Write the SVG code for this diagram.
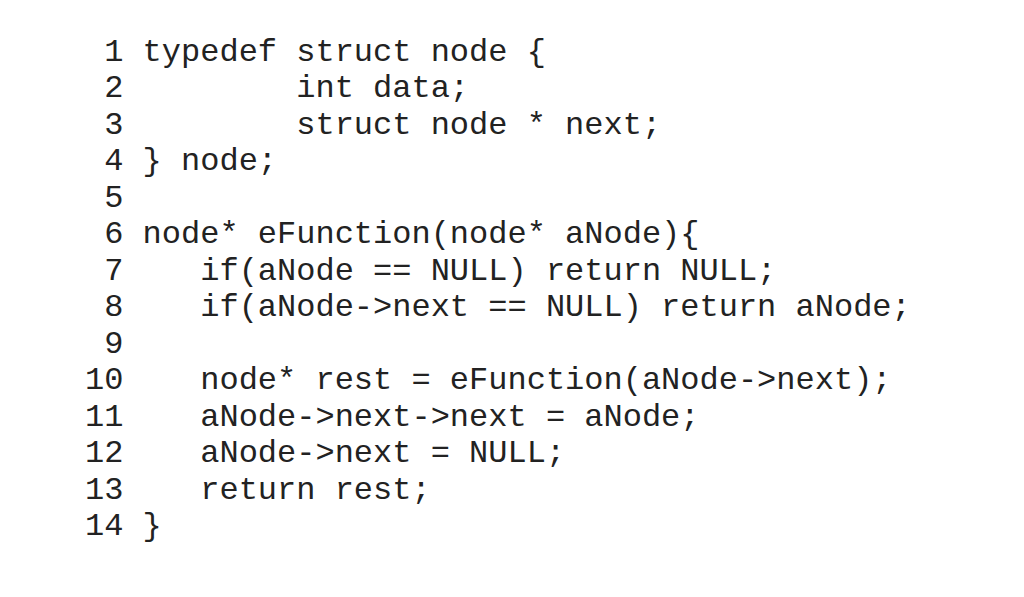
<svg xmlns="http://www.w3.org/2000/svg" width="1024" height="597" viewBox="0 0 1024 597">
<style>text{font-family:"Liberation Mono","Courier New",monospace;font-size:32px;fill:#222;white-space:pre}</style>
<rect width="1024" height="597" fill="#fff"/>
<g id="code" xml:space="preserve">
<text x="85" y="61"> 1 typedef struct node {</text>
<text x="85" y="97"> 2         int data;</text>
<text x="85" y="134"> 3         struct node * next;</text>
<text x="85" y="170"> 4 } node;</text>
<text x="85" y="207"> 5</text>
<text x="85" y="243"> 6 node* eFunction(node* aNode){</text>
<text x="85" y="280"> 7    if(aNode == NULL) return NULL;</text>
<text x="85" y="316"> 8    if(aNode-&gt;next == NULL) return aNode;</text>
<text x="85" y="353"> 9</text>
<text x="85" y="389">10    node* rest = eFunction(aNode-&gt;next);</text>
<text x="85" y="426">11    aNode-&gt;next-&gt;next = aNode;</text>
<text x="85" y="462">12    aNode-&gt;next = NULL;</text>
<text x="85" y="499">13    return rest;</text>
<text x="85" y="535">14 }</text>
</g>
</svg>
